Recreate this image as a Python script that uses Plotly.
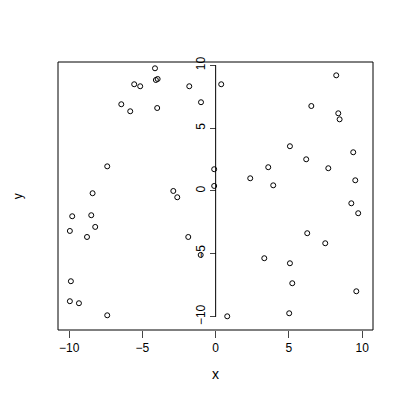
import plotly.graph_objects as go

# points
x = [-4.14, -3.96, -4.08, -5.56, -5.15, -1.80, 0.38, -6.44, -5.83, -3.99, -1.00,
     -7.40, -0.10, -8.40, -2.89, -2.62, -0.10, -9.79, -8.49, -9.95, -8.22, -8.78,
     -1.87, -1.02, -9.88, -9.95, -9.33, -7.40,
     8.23, 6.53, 8.37, 8.46, 5.07, 9.39, 6.18, 3.59, 7.69, 2.36, 9.53, 3.93,
     9.26, 9.73, 6.25, 7.48, 3.32, 5.07, 5.23, 9.60, 0.79, 5.02]
y = [9.76, 8.91, 8.83, 8.49, 8.33, 8.33, 8.49, 6.90, 6.34, 6.60, 7.06,
     1.96, 1.73, -0.18, 0.00, -0.50, 0.40, -2.01, -1.93, -3.18, -2.86, -3.66,
     -3.66, -5.09, -7.18, -8.77, -8.93, -9.89,
     9.20, 6.76, 6.18, 5.70, 3.56, 3.08, 2.52, 1.89, 1.81, 1.01, 0.85, 0.45,
     -0.98, -1.77, -3.36, -4.16, -5.35, -5.75, -7.34, -7.98, -9.97, -9.73]
ticks = [-10, -5, 0, 5, 10]

xr = [-10.76, 10.74]
yr = [-11.06, 10.26]
ypos = (0 - xr[0]) / (xr[1] - xr[0])

fig = go.Figure(go.Scatter(x=x, y=y, mode="markers",
                           marker=dict(symbol="circle-open", size=5, color="black",
                                       line=dict(width=1))))
fig.update_layout(
    width=400, height=400, margin=dict(l=50, r=35, t=54, b=78),
    plot_bgcolor="white", paper_bgcolor="white", showlegend=False,
    font=dict(family="Liberation Sans, Arial", size=12, color="black"),
    xaxis=dict(range=xr, tickvals=ticks, ticks="outside", ticklen=7,
               showgrid=False, zeroline=False, showline=False,
               title=dict(text="x", standoff=14)),
    yaxis=dict(range=yr, tickvals=ticks, ticks="outside", ticklen=6,
               showgrid=False, zeroline=False, showline=False,
               anchor="free", position=ypos, tickangle=-90),
    shapes=[
        dict(type="rect", xref="paper", yref="paper", x0=0, x1=1, y0=0, y1=1,
             line=dict(color="black", width=1)),
        dict(type="line", xref="x", yref="y", x0=0, x1=0, y0=-10, y1=10,
             line=dict(color="black", width=1)),
    ],
    annotations=[dict(text="y", xref="paper", yref="paper", x=-0.155, y=0.5,
                      showarrow=False, textangle=-90, font=dict(size=12))],
)
fig.write_html("out.html")
